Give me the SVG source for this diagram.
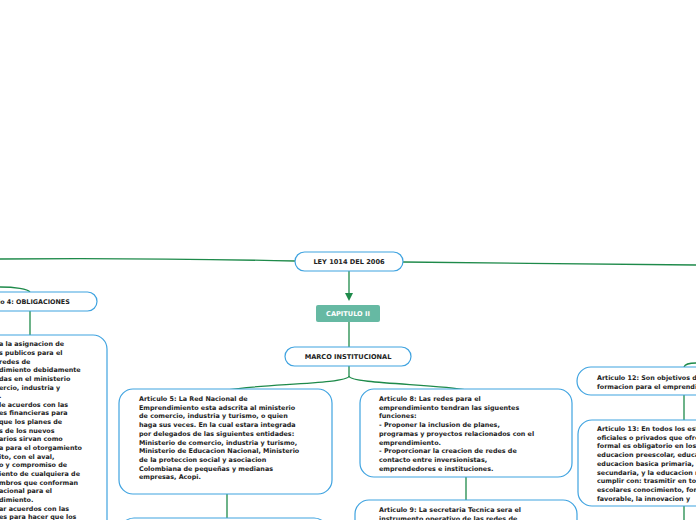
<svg xmlns="http://www.w3.org/2000/svg" width="696" height="520" viewBox="0 0 696 520">
<style>
.b{fill:#fff;stroke:#3fa3e0;stroke-width:1.2}
.c{fill:none;stroke:#1e8a4a;stroke-width:1.3}
text{font-family:"DejaVu Sans",Verdana,sans-serif;font-weight:bold;font-size:6.4px;fill:#222}
.t{font-size:6.6px}
</style>
<defs><marker id="a" markerWidth="8" markerHeight="8" refX="4" refY="4" orient="auto" markerUnits="userSpaceOnUse"><path d="M0,0L8,4L0,8z" fill="#1e8a4a"/></marker></defs>
<rect width="696" height="520" fill="#fff"/>
<g id="connectors">
<path class="c" d="M295,261 C200,259 100,258 0,259"/>
<path class="c" d="M403,262 C500,263 600,264 696,265"/>
<path class="c" d="M349,271 V297" marker-end="url(#a)"/>
<path class="c" d="M349,322 V347"/>
<path class="c" d="M349,366 V376 C349,384 260,384 227,390"/>
<path class="c" d="M349,376 C349,384 440,384 466,390"/>
<path class="c" d="M227,494 V518"/>
<path class="c" d="M466,477 V500"/>
<path class="c" d="M0,287 C15,287 28,289 30,292"/>
<path class="c" d="M30,311 V335"/>
<path class="c" d="M696,363 C690,363 685,364 684,367"/>
<path class="c" d="M684,395 V420"/>
<path class="c" d="M684,506 V520"/>
</g>
<g id="ley"><rect class="b" x="295" y="252" width="108" height="19" rx="9.5"/><text class="t" x="349" y="264" text-anchor="middle">LEY 1014 DEL 2006</text></g>
<g id="capitulo"><rect x="316" y="305" width="64" height="17" rx="2" fill="#66b9a3"/><text class="t" x="348" y="316" text-anchor="middle" fill="#fff" style="fill:#fff">CAPITULO II</text></g>
<g id="marco"><rect class="b" x="285" y="347" width="126" height="19" rx="9.5"/><text class="t" x="348" y="359" text-anchor="middle">MARCO INSTITUCIONAL</text></g>
<g id="art4"><rect class="b" x="-20" y="292" width="117" height="19" rx="9.5"/><text x="-2" y="304">lo 4: OBLIGACIONES</text></g>
<g id="art4b"><rect class="b" x="-20" y="335" width="127" height="200" rx="14"/>
<text x="-1" y="346">a la asignacion de</text><text x="-1" y="355">s publicos para el</text><text x="-1" y="363.5">redes de</text><text x="-1" y="372">dimiento debidamente</text><text x="-1" y="381">das en el ministerio</text><text x="-1" y="389.5">ercio, industria y</text><text x="-1" y="398">.</text><text x="-1" y="406.5">le acuerdos con las</text><text x="-1" y="415">es financieras para</text><text x="-1" y="424">que los planes de</text><text x="-1" y="432.5">s de los nuevos</text><text x="-1" y="441">arios sirvan como</text><text x="-1" y="450">a para el otorgamiento</text><text x="-1" y="458.5">ito, con el aval,</text><text x="-1" y="467">o y compromiso de</text><text x="-1" y="476">iento de cualquiera de</text><text x="-1" y="484.5">mbros que conforman</text><text x="-1" y="493">acional para el</text><text x="-1" y="502">dimiento.</text><text x="-1" y="510.5">ar acuerdos con las</text><text x="-1" y="519">es para hacer que los</text></g>
<g id="art5"><rect class="b" x="119" y="389" width="213" height="105" rx="14"/>
<text x="139" y="401">Articulo 5: La Red Nacional de</text><text x="139" y="409.7">Emprendimiento esta adscrita al ministerio</text><text x="139" y="418.4">de comercio, industria y turismo, o quien</text><text x="139" y="427.1">haga sus veces. En la cual estara integrada</text><text x="139" y="435.8">por delegados de las siguientes entidades:</text><text x="139" y="444.5">Ministerio de comercio, industria y turismo,</text><text x="139" y="453.2">Ministerio de Educacion Nacional, Ministerio</text><text x="139" y="461.9">de la proteccion social y asociacion</text><text x="139" y="470.6">Colombiana de pequeñas y medianas</text><text x="139" y="479.3">empresas, Acopi.</text></g>
<g id="art6"><rect class="b" x="120" y="518" width="208" height="40" rx="14"/></g>
<g id="art8"><rect class="b" x="360" y="389" width="212" height="88" rx="14"/>
<text x="379" y="401">Articulo 8: Las redes para el</text><text x="379" y="409.7">emprendimiento tendran las siguentes</text><text x="379" y="418.4">funciones:</text><text x="379" y="427.1">- Proponer la inclusion de planes,</text><text x="379" y="435.8">programas y proyectos relacionados con el</text><text x="379" y="444.5">emprendimiento.</text><text x="379" y="453.2">- Proporcionar la creacion de redes de</text><text x="379" y="461.9">contacto entre inversionistas,</text><text x="379" y="470.6">emprendedores e instituciones.</text></g>
<g id="art9"><rect class="b" x="355" y="500" width="222" height="60" rx="14"/>
<text x="379" y="512">Articulo 9: La secretaria Tecnica sera el</text><text x="379" y="520.7">instrumento operativo de las redes de</text></g>
<g id="art12"><rect class="b" x="577" y="367" width="140" height="28" rx="14"/>
<text x="597" y="380">Articulo 12: Son objetivos de la</text><text x="597" y="389">formacion para el emprendimiento</text></g>
<g id="art13"><rect class="b" x="578" y="420" width="140" height="86" rx="14"/>
<text x="597" y="431">Articulo 13: En todos los establecimientos</text><text x="597" y="439.7">oficiales o privados que ofrezcan educacion</text><text x="597" y="448.4">formal es obligatorio en los niveles de la</text><text x="597" y="457.1">educacion preescolar, educacion</text><text x="597" y="465.8">educacion basica primaria, basica</text><text x="597" y="474.5">secundaria, y la educacion media</text><text x="597" y="483.2">cumplir con: trasmitir en todos los</text><text x="597" y="491.9">escolares conocimiento, formar</text><text x="597" y="500.6">favorable, la innovacion y</text></g>
</svg>
